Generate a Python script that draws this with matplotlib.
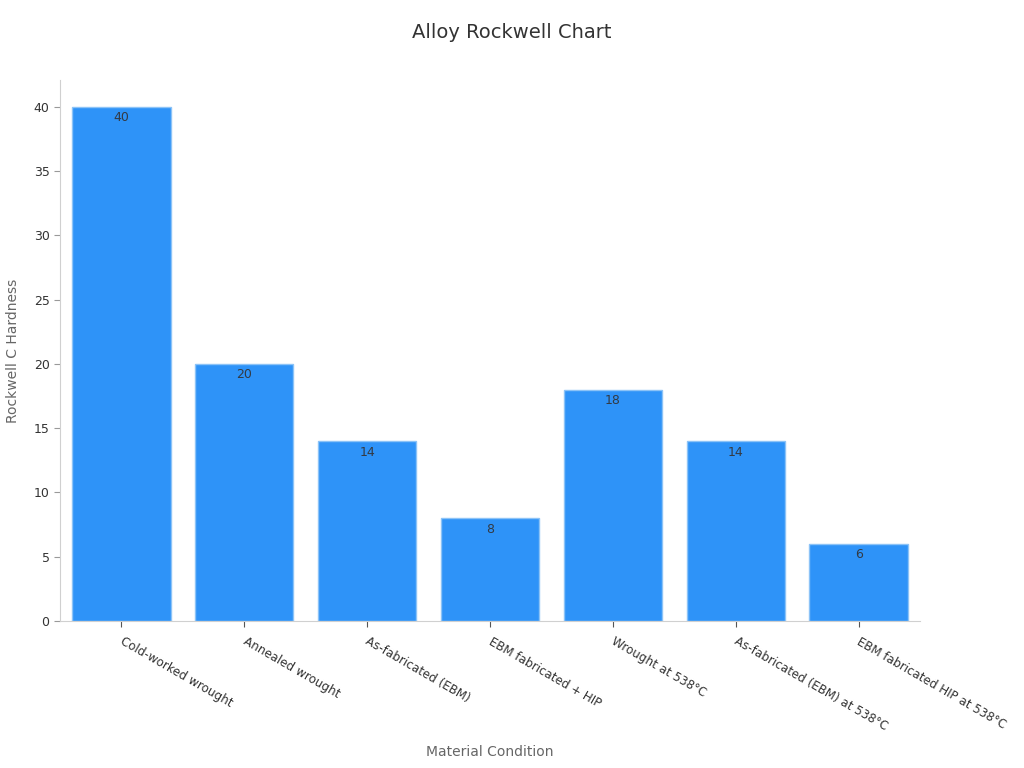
import matplotlib
matplotlib.use("Agg")
import matplotlib.pyplot as plt
import matplotlib.transforms as mtransforms

categories = ["Cold-worked wrought", "Annealed wrought", "As-fabricated (EBM)",
              "EBM fabricated + HIP", "Wrought at 538°C", "As-fabricated (EBM) at 538°C",
              "EBM fabricated HIP at 538°C"]
hardness = [40, 20, 14, 8, 18, 14, 6]

fig = plt.figure(figsize=(10.24, 7.68), dpi=100)
ax = fig.add_axes([60/1024, 1-621/768, 860/1024, 541/768])
x = list(range(len(categories)))
bars = ax.bar(x, hardness, width=0.8, color="#2E93F8", edgecolor="#8CC3F7", linewidth=1)
for xi, v in zip(x, hardness):
    ax.text(xi, v - 0.35, str(v), ha="center", va="top", fontsize=9, color="#333a44")

ax.set_xlim(-0.5, 6.5)
ax.set_ylim(0, 42.1)
ax.set_yticks([0, 5, 10, 15, 20, 25, 30, 35, 40])
ax.set_xticks(x)
ax.set_xticklabels(categories, rotation=-30, ha="left", rotation_mode="anchor", fontsize=8.6, color="#333333")
ax.tick_params(axis="y", labelsize=9, colors="#333333", length=4, color="#999999")
ax.tick_params(axis="x", length=4, color="#555555", pad=6)
offset = mtransforms.ScaledTranslation(2/72, 0, fig.dpi_scale_trans)
for lbl in ax.get_xticklabels():
    lbl.set_transform(lbl.get_transform() + offset)
for s in ["top", "right"]:
    ax.spines[s].set_visible(False)
for s in ["left", "bottom"]:
    ax.spines[s].set_color("#d0d0d0")
ax.set_ylabel("Rockwell C Hardness", fontsize=10, color="#666666")
ax.yaxis.set_label_coords(-0.047, 0.5)
ax.set_xlabel("Material Condition", fontsize=10, color="#666666")
ax.xaxis.set_label_coords(0.5, -0.23)
fig.text(0.5, 1-33/768, "Alloy Rockwell Chart", ha="center", va="center", fontsize=14, color="#333333")
fig.savefig("out.png", dpi=100)
